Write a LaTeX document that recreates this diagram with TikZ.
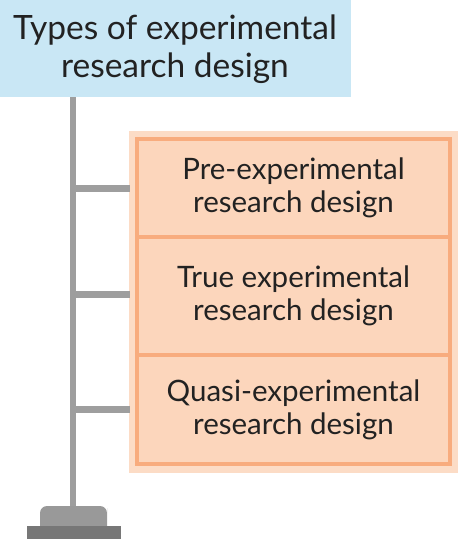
\documentclass[tikz,border=0pt]{standalone}
\usepackage{fontspec}
\setmainfont{Lato}
\definecolor{titlebg}{HTML}{C9E7F5}
\definecolor{outerbg}{HTML}{FCDCC6}
\definecolor{cellbg}{HTML}{FCD6BC}
\definecolor{cellline}{HTML}{F8AC7E}
\definecolor{pole}{HTML}{9E9E9E}
\definecolor{basetop}{HTML}{999999}
\definecolor{basebot}{HTML}{777777}
\definecolor{txt}{HTML}{222222}
\begin{document}
\begin{tikzpicture}[x=1pt,y=-1pt,
  celltext/.style={align=center,text=txt,font=\fontsize{29.5}{33}\selectfont},
  branch/.style={draw=pole,line width=7pt},
  cellbox/.style={draw=cellline,fill=cellbg,line width=4pt}]
\useasboundingbox (0,0) rectangle (458,539);
% title
\fill[titlebg] (0,0) rectangle (351,97);
\node[align=center,text=txt,font=\fontsize{33.5}{38}\selectfont] (title) at (175,49) {Types of experimental\\research design};
% pole
\fill[pole] (70,97) rectangle (76,507);
\coordinate (poletop) at (73,97);
% base
\fill[basetop] (40,527) -- (40,515) [rounded corners=7pt] -- (40,506) -- (107,506) -- (107,515) [sharp corners] -- (107,527) -- cycle;
\fill[basebot] (27,526) rectangle (121,539);
% outer
\fill[outerbg] (129,131) rectangle (458,473);
% cells
\draw[cellbox] (137,139) rectangle (450,237);
\draw[cellbox] (137,237) rectangle (450,355);
\draw[cellbox] (137,355) rectangle (450,464);
\node[celltext] (c1) at (293.5,188) {Pre-experimental\\research design};
\node[celltext] (c2) at (293.5,296) {True experimental\\research design};
\node[celltext] (c3) at (293.5,409.5) {Quasi-experimental\\research design};
% branches
\coordinate (b1) at (70,188.5);
\coordinate (b2) at (70,294.5);
\coordinate (b3) at (70,409.5);
\draw[branch] (b1) -- (130,188.5);
\draw[branch] (b2) -- (130,294.5);
\draw[branch] (b3) -- (130,409.5);
\end{tikzpicture}
\end{document}
